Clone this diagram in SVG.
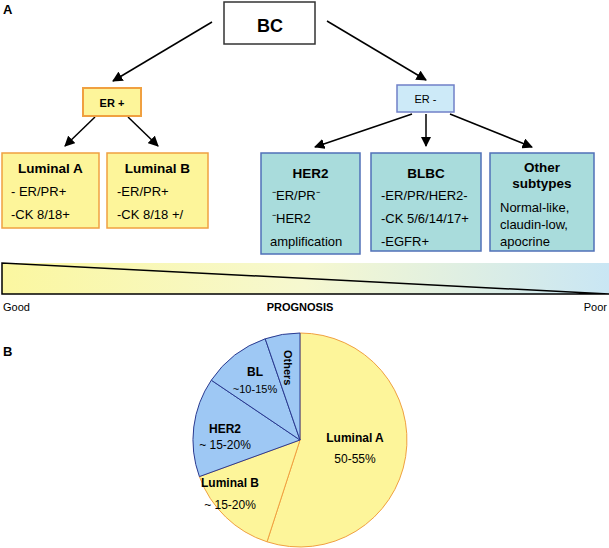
<svg xmlns="http://www.w3.org/2000/svg" width="609" height="548" viewBox="0 0 609 548">
<style>
text{font-family:"Liberation Sans",Arial,sans-serif;fill:#000}
.b{font-weight:bold}
.y{fill:#fdf59a;stroke:#f0a040;stroke-width:1.5}
.c{fill:#a9dcdc;stroke:#5070b8;stroke-width:1.5}
.t{font-size:13px}
.h{font-size:13.5px;font-weight:bold}
</style>
<defs>
<marker id="ar" viewBox="0 0 10 10" refX="9" refY="5" markerWidth="7" markerHeight="7" orient="auto"><path d="M0,0L10,5L0,10z" fill="#000"/></marker>
<linearGradient id="g" x1="0" x2="1" y1="0" y2="0"><stop offset="0" stop-color="#fbf7a0"/><stop offset="0.5" stop-color="#f6f8d0"/><stop offset="1" stop-color="#c9e6f4"/></linearGradient>
</defs>
<text x="3" y="14" class="b" font-size="13">A</text>
<text x="3" y="356" class="b" font-size="13">B</text>
<g id="connectors" stroke="#000" stroke-width="1.5" marker-end="url(#ar)">
<line x1="212" y1="22" x2="113" y2="81"/>
<line x1="327" y1="21" x2="426" y2="80"/>
<line x1="95" y1="117" x2="65" y2="146"/>
<line x1="128" y1="117" x2="158" y2="146"/>
<line x1="412" y1="114" x2="315" y2="147"/>
<line x1="426" y1="114" x2="426" y2="146"/>
<line x1="450" y1="114" x2="532" y2="147"/>
</g>
<g id="bc"><rect x="224" y="2" width="91" height="42" fill="#fff" stroke="#333" stroke-width="1.5"/><text x="270" y="32" text-anchor="middle" class="b" font-size="18">BC</text></g>
<g id="erp"><rect x="83" y="88" width="58" height="28" fill="#fdf59a" stroke="#f0a040" stroke-width="2"/><text x="112" y="107" text-anchor="middle" class="b" font-size="11">ER +</text></g>
<g id="ern"><rect x="397" y="85" width="57" height="27" fill="#cdeaf8" stroke="#7080c8" stroke-width="1.5"/><text x="425.5" y="103" text-anchor="middle" font-size="11">ER -</text></g>
<g id="luma"><rect x="2" y="153" width="97" height="75" class="y"/><text x="50.5" y="173" text-anchor="middle" class="h">Luminal A</text><text x="11" y="196" class="t">- ER/PR+</text><text x="11" y="219" class="t">-CK 8/18+</text></g>
<g id="lumb"><rect x="107" y="153" width="101" height="75" class="y"/><text x="157.5" y="173" text-anchor="middle" class="h">Luminal B</text><text x="117" y="196" class="t">-ER/PR+</text><text x="117" y="219" class="t">-CK 8/18 +/</text></g>
<g id="her2"><rect x="261" y="153" width="99" height="101" class="c"/><text x="310.5" y="178" text-anchor="middle" class="h">HER2</text><text x="272" y="200" class="t">⁻ER/PR⁻</text><text x="272" y="223" class="t">⁻HER2</text><text x="270" y="246" class="t">amplification</text></g>
<g id="blbc"><rect x="371" y="153" width="110" height="98" class="c"/><text x="426" y="178" text-anchor="middle" class="h">BLBC</text><text x="381" y="200" class="t">-ER/PR/HER2-</text><text x="381" y="223" class="t">-CK 5/6/14/17+</text><text x="381" y="246" class="t">-EGFR+</text></g>
<g id="other"><rect x="490" y="153" width="104" height="98" class="c"/><text x="542" y="172" text-anchor="middle" class="h">Other</text><text x="542" y="188" text-anchor="middle" class="h">subtypes</text><text x="500" y="212" class="t">Normal-like,</text><text x="500" y="229" class="t">claudin-low,</text><text x="500" y="246" class="t">apocrine</text></g>
<g id="bar"><rect x="2" y="263" width="607" height="31" fill="url(#g)"/><polyline points="609,294 2,294 2,263 609,294" fill="none" stroke="#000" stroke-width="1.5"/>
<text x="3" y="311" font-size="11">Good</text><text x="300" y="311" text-anchor="middle" class="b" font-size="11">PROGNOSIS</text><text x="607" y="311" text-anchor="end" font-size="11">Poor</text></g>
<g id="pie">
<path d="M300,440L300,333A107,107 0 1 1 267,541.8Z" fill="#fdf59a" stroke="#f0a040" stroke-width="1"/>
<path d="M300,440L267,541.8A107,107 0 0 1 199.4,476.6Z" fill="#fdf59a" stroke="#f0a040" stroke-width="1"/>
<path d="M300,440L199.4,476.6A107,107 0 0 1 211.3,380.2Z" fill="#9ec8f4" stroke="#2a3a90" stroke-width="1"/>
<path d="M300,440L211.3,380.2A107,107 0 0 1 265.2,338.8Z" fill="#9ec8f4" stroke="#2a3a90" stroke-width="1"/>
<path d="M300,440L265.2,338.8A107,107 0 0 1 300,333Z" fill="#9ec8f4" stroke="#2a3a90" stroke-width="1"/>
<text x="355" y="442" text-anchor="middle" class="b" font-size="12">Luminal A</text><text x="355" y="463" text-anchor="middle" font-size="12">50-55%</text>
<text x="230" y="487" text-anchor="middle" class="b" font-size="12">Luminal B</text><text x="230" y="509" text-anchor="middle" font-size="12">~ 15-20%</text>
<text x="225" y="433" text-anchor="middle" class="b" font-size="12">HER2</text><text x="225" y="449" text-anchor="middle" font-size="12">~ 15-20%</text>
<text x="255" y="376" text-anchor="middle" class="b" font-size="12">BL</text><text x="255" y="393" text-anchor="middle" font-size="11">~10-15%</text>
<text transform="translate(284,350) rotate(90)" class="b" font-size="11">Others</text>
</g>
</svg>
